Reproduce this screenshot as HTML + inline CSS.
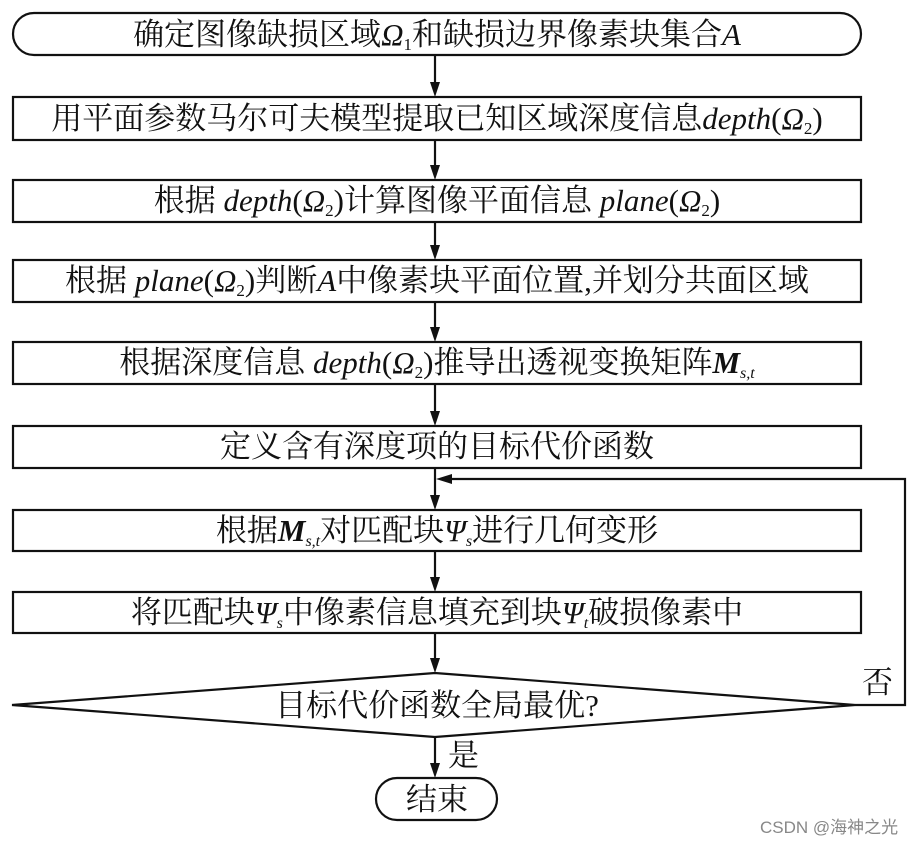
<!DOCTYPE html>
<html><head><meta charset="utf-8"><style>
html,body{margin:0;padding:0;background:#fff;}
svg text{font-family:"Liberation Serif","Noto Serif CJK SC",serif;font-size:31px;fill:#111;}
.i{font-style:italic;}
</style></head><body>
<svg width="910" height="841" viewBox="0 0 910 841" xmlns="http://www.w3.org/2000/svg">
<g stroke="#111" stroke-width="2.2" fill="none">
<rect x="13" y="13" width="848" height="42" rx="21"/>
<rect x="13" y="97" width="848" height="43"/>
<rect x="13" y="180" width="848" height="42"/>
<rect x="13" y="260" width="848" height="42"/>
<rect x="13" y="342" width="848" height="42"/>
<rect x="13" y="426" width="848" height="42"/>
<rect x="13" y="510" width="848" height="41"/>
<rect x="13" y="592" width="848" height="41"/>
<polygon points="12,705 435,673 855,705 435,737"/>
<rect x="376" y="778" width="121" height="42" rx="21"/>
<line x1="435" y1="55" x2="435" y2="84"/>
<line x1="435" y1="140" x2="435" y2="167"/>
<line x1="435" y1="222" x2="435" y2="247"/>
<line x1="435" y1="302" x2="435" y2="329"/>
<line x1="435" y1="384" x2="435" y2="413"/>
<line x1="435" y1="468" x2="435" y2="497"/>
<line x1="435" y1="551" x2="435" y2="579"/>
<line x1="435" y1="633" x2="435" y2="660"/>
<line x1="435" y1="737" x2="435" y2="765"/>
<polyline points="855,705 905,705 905,479 452,479"/>
</g>
<g fill="#111">
<path d="M430,82 L440,82 L435,97 Z"/>
<path d="M430,165 L440,165 L435,180 Z"/>
<path d="M430,245 L440,245 L435,260 Z"/>
<path d="M430,327 L440,327 L435,342 Z"/>
<path d="M430,411 L440,411 L435,426 Z"/>
<path d="M430,495 L440,495 L435,510 Z"/>
<path d="M430,577 L440,577 L435,592 Z"/>
<path d="M430,658 L440,658 L435,673 Z"/>
<path d="M430,763 L440,763 L435,778 Z"/>
<path d="M436,479 L452,474 L452,484 Z"/>
</g>
<g text-anchor="middle">
<text x="437" y="45">确定图像缺损区域<tspan class="i">Ω</tspan><tspan font-size="17" dy="5">1</tspan><tspan dy="-5">和缺损边界像素块集合</tspan><tspan class="i">A</tspan></text>
<text x="437" y="129">用平面参数马尔可夫模型提取已知区域深度信息<tspan class="i">depth</tspan>(<tspan class="i">Ω</tspan><tspan font-size="17" dy="5">2</tspan><tspan dy="-5">)</tspan></text>
<text x="437" y="211">根据 <tspan class="i">depth</tspan>(<tspan class="i">Ω</tspan><tspan font-size="17" dy="5">2</tspan><tspan dy="-5">)计算图像平面信息 </tspan><tspan class="i">plane</tspan>(<tspan class="i">Ω</tspan><tspan font-size="17" dy="5">2</tspan><tspan dy="-5">)</tspan></text>
<text x="437" y="291">根据 <tspan class="i">plane</tspan>(<tspan class="i">Ω</tspan><tspan font-size="17" dy="5">2</tspan><tspan dy="-5">)判断</tspan><tspan class="i">A</tspan>中像素块平面位置,并划分共面区域</text>
<text x="437" y="373">根据深度信息 <tspan class="i">depth</tspan>(<tspan class="i">Ω</tspan><tspan font-size="17" dy="5">2</tspan><tspan dy="-5">)推导出透视变换矩阵</tspan><tspan class="i" font-weight="bold">M</tspan><tspan font-size="16" class="i" dy="5">s,t</tspan></text>
<text x="437" y="457">定义含有深度项的目标代价函数</text>
<text x="437" y="541">根据<tspan class="i" font-weight="bold">M</tspan><tspan font-size="16" class="i" dy="5">s,t</tspan><tspan dy="-5">对匹配块</tspan><tspan class="i">Ψ</tspan><tspan font-size="16" class="i" dy="5">s</tspan><tspan dy="-5">进行几何变形</tspan></text>
<text x="437" y="623">将匹配块<tspan class="i">Ψ</tspan><tspan font-size="16" class="i" dy="5">s</tspan><tspan dy="-5">中像素信息填充到块</tspan><tspan class="i">Ψ</tspan><tspan font-size="16" class="i" dy="5">t</tspan><tspan dy="-5">破损像素中</tspan></text>
<text x="437" y="716">目标代价函数全局最优?</text>
<text x="437" y="810">结束</text>
</g>
<text x="448" y="766">是</text>
<text x="862" y="693">否</text>
<text x="760" y="833" style="font-family:'Liberation Sans','Noto Sans CJK SC',sans-serif;font-size:17px;fill:#888">CSDN @海神之光</text>
</svg>
</body></html>
